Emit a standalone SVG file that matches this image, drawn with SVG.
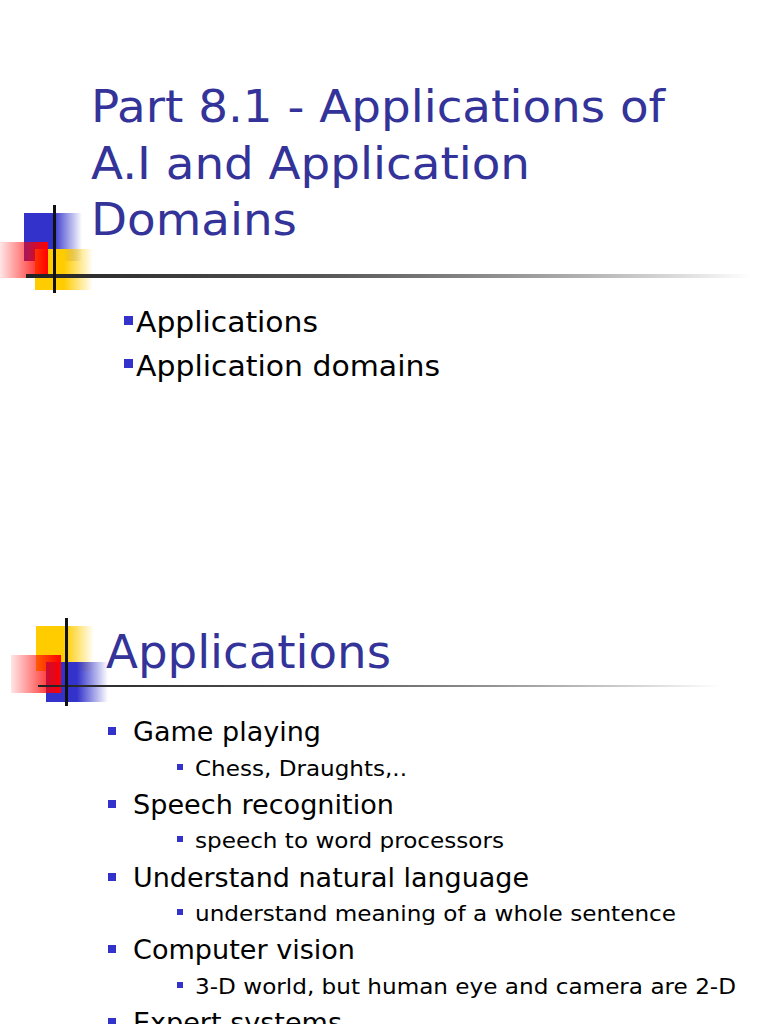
<svg xmlns="http://www.w3.org/2000/svg" width="768" height="1024" viewBox="0 0 768 1024">
<defs>
<linearGradient id="bl" x1="0" x2="1"><stop offset="0.5" stop-color="#3333cc"/><stop offset="1" stop-color="#3333cc" stop-opacity="0"/></linearGradient>
<linearGradient id="ye" x1="0" x2="1"><stop offset="0.5" stop-color="#ffcc00"/><stop offset="1" stop-color="#ffcc00" stop-opacity="0"/></linearGradient>
<linearGradient id="re" x1="1" x2="0"><stop offset="0" stop-color="#ff0000"/><stop offset="1" stop-color="#ff0000" stop-opacity="0.1"/></linearGradient>
<linearGradient id="ln" x1="0" x2="1"><stop offset="0" stop-color="#222"/><stop offset="0.4" stop-color="#555"/><stop offset="1" stop-color="#222" stop-opacity="0"/></linearGradient>
</defs>
<style>
text{font-family:"DejaVu Sans",Verdana,sans-serif}
.t{fill:#333399}
.sq{fill:#3333cc}
</style>
<rect width="768" height="1024" fill="#fff"/>
<g id="slide1-deco">
<rect x="24" y="213" width="58" height="48" fill="url(#bl)"/>
<rect x="35" y="249" width="58" height="41" fill="url(#ye)"/>
<rect x="0" y="242" width="48" height="36" fill="url(#re)"/>
<rect x="26" y="274" width="724" height="4" fill="url(#ln)"/>
<rect x="53" y="205" width="3" height="88" fill="#111"/>
</g>
<g id="slide1-title" class="t" font-size="45">
<text x="91" y="122" textLength="574" lengthAdjust="spacingAndGlyphs">Part 8.1 - Applications of</text>
<text x="91" y="179" textLength="439" lengthAdjust="spacingAndGlyphs">A.I and Application</text>
<text x="91" y="235" textLength="206" lengthAdjust="spacingAndGlyphs">Domains</text>
</g>
<g id="slide1-bullets" font-size="28">
<rect class="sq" x="124" y="316" width="9" height="9"/>
<text x="136" y="332" textLength="182" lengthAdjust="spacingAndGlyphs">Applications</text>
<rect class="sq" x="124" y="359" width="9" height="9"/>
<text x="136" y="376" textLength="304" lengthAdjust="spacingAndGlyphs">Application domains</text>
</g>
<g id="slide2-deco">
<rect x="36" y="626" width="58" height="45" fill="url(#ye)"/>
<rect x="46" y="662" width="62" height="40" fill="url(#bl)"/>
<rect x="11" y="655" width="50" height="38" fill="url(#re)"/>
<rect x="38" y="685" width="682" height="2" fill="url(#ln)"/>
<rect x="65" y="618" width="3" height="88" fill="#111"/>
</g>
<text id="slide2-title" class="t" x="106" y="668" font-size="46" textLength="285" lengthAdjust="spacingAndGlyphs">Applications</text>
<g id="slide2-list" font-size="26">
<rect class="sq" x="108" y="727" width="8" height="8"/><text x="133" y="741" textLength="188" lengthAdjust="spacingAndGlyphs">Game playing</text>
<rect class="sq" x="108" y="800" width="8" height="8"/><text x="133" y="814" textLength="261" lengthAdjust="spacingAndGlyphs">Speech recognition</text>
<rect class="sq" x="108" y="873" width="8" height="8"/><text x="133" y="887" textLength="396" lengthAdjust="spacingAndGlyphs">Understand natural language</text>
<rect class="sq" x="108" y="945" width="8" height="8"/><text x="133" y="959" textLength="222" lengthAdjust="spacingAndGlyphs">Computer vision</text>
<rect class="sq" x="108" y="1018" width="8" height="8"/><text x="133" y="1032" textLength="209" lengthAdjust="spacingAndGlyphs">Expert systems</text>
</g>
<g id="slide2-sub" font-size="22">
<rect class="sq" x="177" y="764" width="6" height="6"/><text x="195" y="776" textLength="212" lengthAdjust="spacingAndGlyphs">Chess, Draughts,..</text>
<rect class="sq" x="177" y="836" width="6" height="6"/><text x="195" y="848" textLength="309" lengthAdjust="spacingAndGlyphs">speech to word processors</text>
<rect class="sq" x="177" y="909" width="6" height="6"/><text x="195" y="921" textLength="481" lengthAdjust="spacingAndGlyphs">understand meaning of a whole sentence</text>
<rect class="sq" x="177" y="982" width="6" height="6"/><text x="195" y="994" textLength="541" lengthAdjust="spacingAndGlyphs">3-D world, but human eye and camera are 2-D</text>
</g>
</svg>
